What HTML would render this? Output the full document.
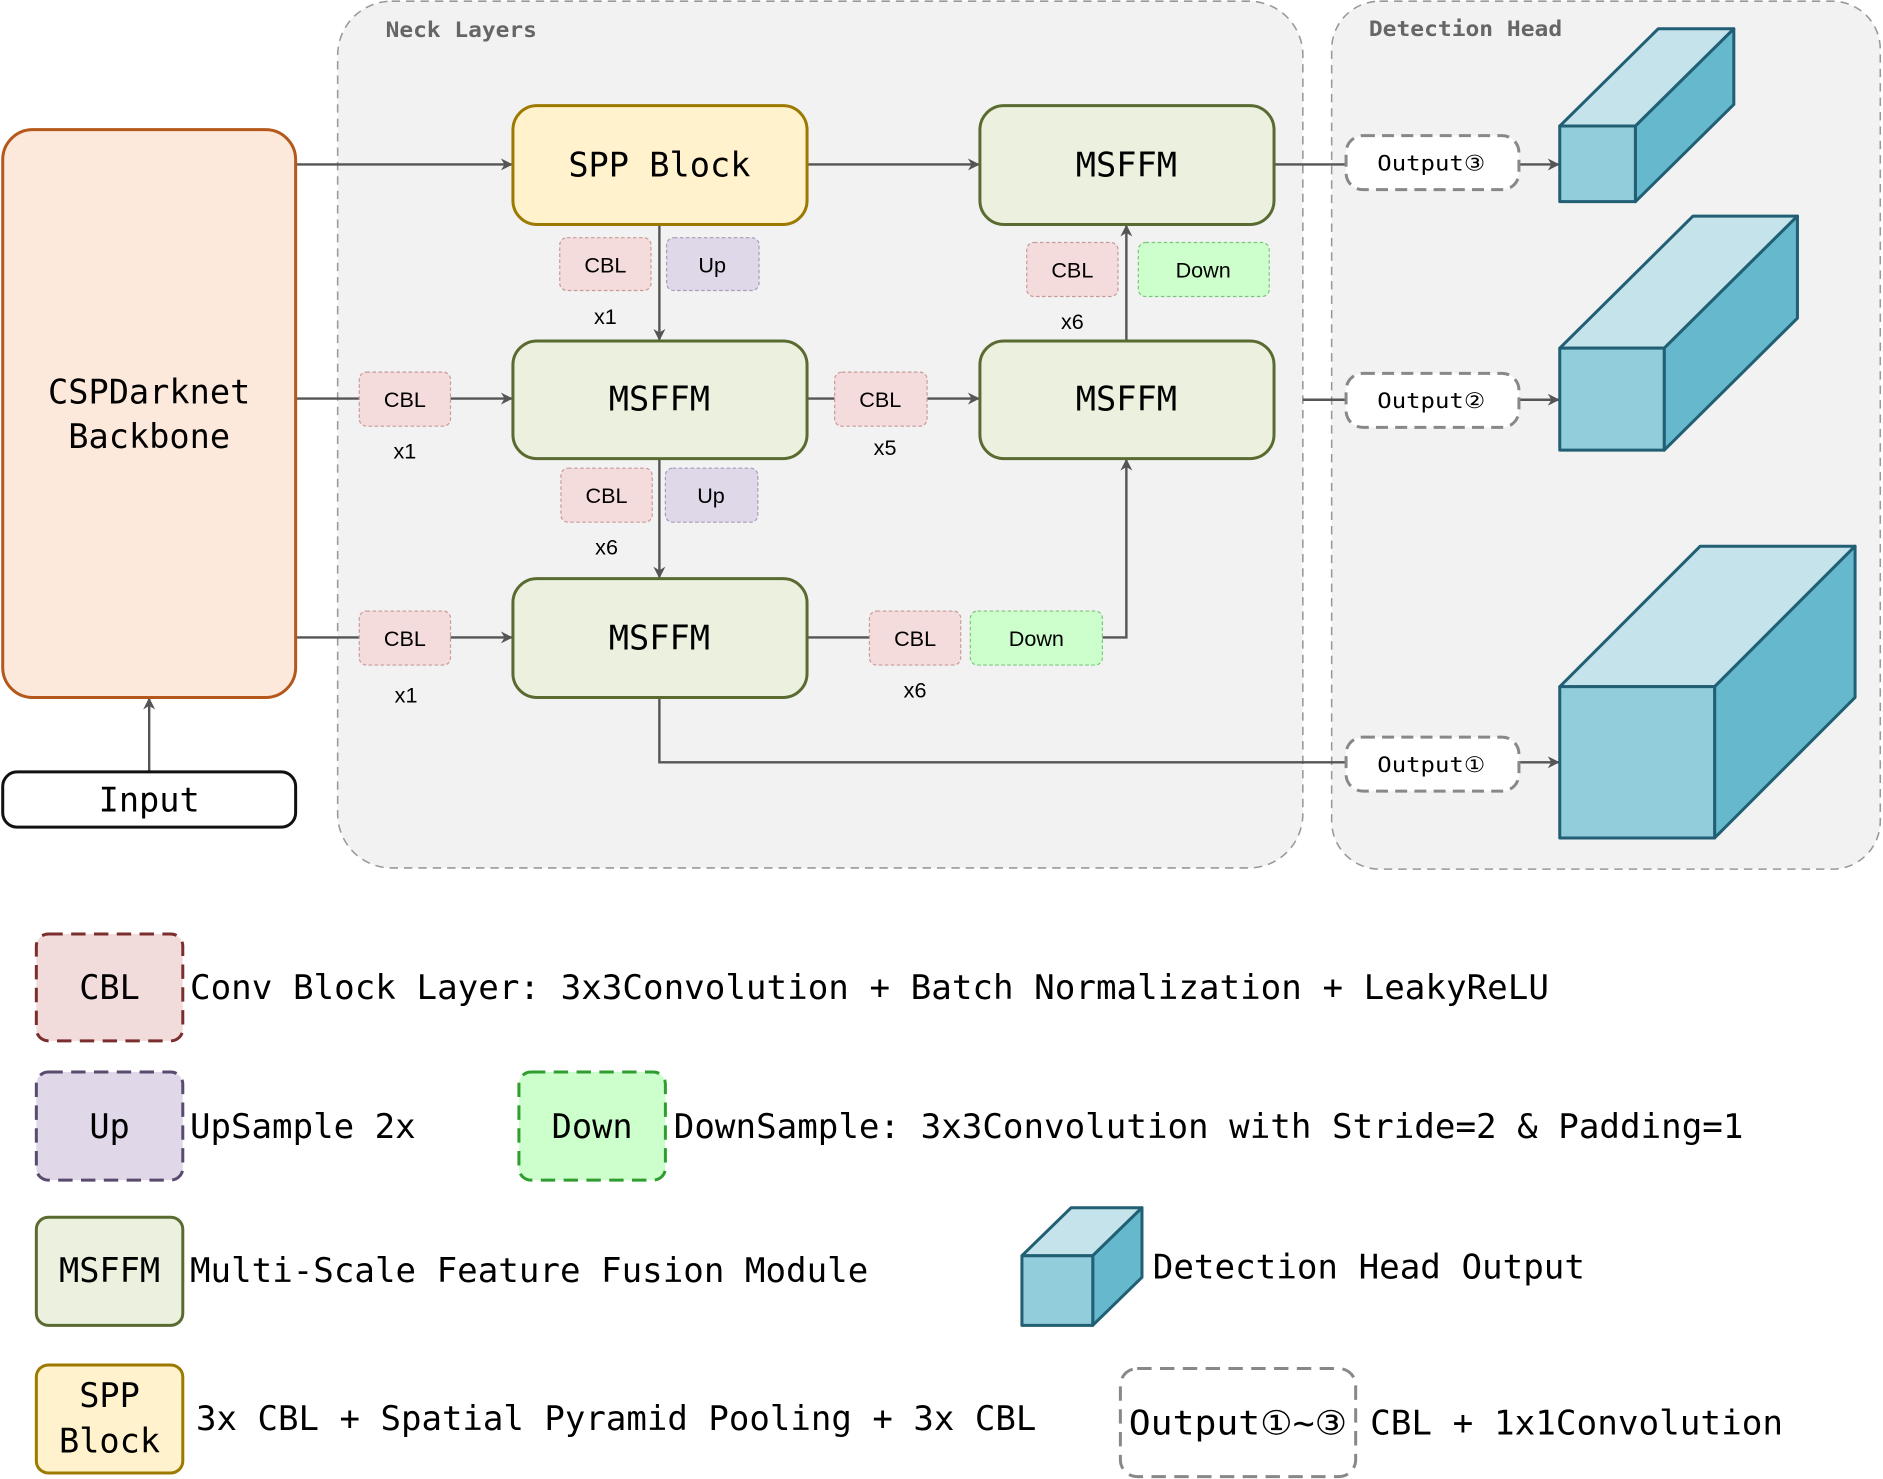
<!DOCTYPE html>
<html><head><meta charset="utf-8"><style>
html,body{margin:0;padding:0;background:#fff;}
svg{display:block}
.m{font-family:"DejaVu Sans Mono","Liberation Mono",monospace;}
.s{font-family:"Liberation Sans","DejaVu Sans",sans-serif;}
</style></head><body>
<svg width="1883" height="1479" viewBox="0 0 1568 1232" xmlns="http://www.w3.org/2000/svg">
<defs>
<marker id="a" markerWidth="10" markerHeight="10" refX="9" refY="5" orient="auto" markerUnits="userSpaceOnUse"><path d="M0,0 L10,5 L0,10 L3,5 Z" fill="#555"/></marker>
</defs>
<rect x="281" y="1" width="804" height="722" rx="45" fill="#f2f2f2" stroke="#999" stroke-width="1.3" stroke-dasharray="7,5"/>
<rect x="1109" y="1" width="457" height="723" rx="40" fill="#f2f2f2" stroke="#999" stroke-width="1.3" stroke-dasharray="7,5"/>
<text x="321" y="31" class="m" font-size="18" font-weight="600" fill="#666" textLength="126" lengthAdjust="spacingAndGlyphs">Neck Layers</text>
<text x="1140" y="30" class="m" font-size="18" font-weight="600" fill="#666" textLength="161" lengthAdjust="spacingAndGlyphs">Detection Head</text>

<g stroke="#555" stroke-width="2" fill="none">
<line x1="246" y1="137" x2="426" y2="137" marker-end="url(#a)"/>
<line x1="672" y1="137" x2="815" y2="137" marker-end="url(#a)"/>
<line x1="246" y1="332" x2="299" y2="332"/>
<line x1="375" y1="332" x2="426" y2="332" marker-end="url(#a)"/>
<line x1="246" y1="531" x2="299" y2="531"/>
<line x1="375" y1="531" x2="426" y2="531" marker-end="url(#a)"/>
<line x1="549" y1="187" x2="549" y2="283" marker-end="url(#a)"/>
<line x1="549" y1="382" x2="549" y2="481" marker-end="url(#a)"/>
<line x1="938" y1="284" x2="938" y2="188" marker-end="url(#a)"/>
<line x1="672" y1="332" x2="695" y2="332"/>
<line x1="772" y1="332" x2="815" y2="332" marker-end="url(#a)"/>
<line x1="672" y1="531" x2="724" y2="531"/>
<polyline points="918,531 938,531 938,383" marker-end="url(#a)"/>
<polyline points="549,581 549,635 1121,635"/>
<line x1="1061" y1="137" x2="1121" y2="137"/>
<line x1="1085" y1="333" x2="1121" y2="333"/>
<line x1="1265" y1="137" x2="1298" y2="137" marker-end="url(#a)"/>
<line x1="1265" y1="333" x2="1298" y2="333" marker-end="url(#a)"/>
<line x1="1265" y1="635" x2="1298" y2="635" marker-end="url(#a)"/>
<line x1="124" y1="643" x2="124" y2="582" marker-end="url(#a)"/>
</g>

<rect x="2" y="108" width="244" height="473" rx="25" fill="#fde9dc" stroke="#b4581b" stroke-width="2.5"/>
<text x="124" y="336" class="m" font-size="28" text-anchor="middle">CSPDarknet</text>
<text x="124" y="373" class="m" font-size="28" text-anchor="middle">Backbone</text>
<rect x="2" y="643" width="244" height="46" rx="12" fill="#fff" stroke="#111" stroke-width="2.5"/>
<text x="124" y="676" class="m" font-size="28" text-anchor="middle">Input</text>

<rect x="427" y="88" width="245" height="99" rx="20" fill="#fff2cc" stroke="#9c7a00" stroke-width="2.5"/>
<text x="549" y="147" class="m" font-size="28" text-anchor="middle">SPP Block</text>
<g fill="#ebf1de" stroke="#5a6b32" stroke-width="2.5">
<rect x="816" y="88" width="245" height="99" rx="20"/>
<rect x="427" y="284" width="245" height="98" rx="20"/>
<rect x="816" y="284" width="245" height="98" rx="20"/>
<rect x="427" y="482" width="245" height="99" rx="20"/>
</g>
<g class="m" font-size="28" text-anchor="middle">
<text x="938" y="147">MSFFM</text>
<text x="549" y="342">MSFFM</text>
<text x="938" y="342">MSFFM</text>
<text x="549" y="541">MSFFM</text>
</g>

<g stroke-width="1" stroke-dasharray="3,2">
<rect x="466" y="198" width="76" height="44" rx="6" fill="#f5dcdc" stroke="#c89a9a"/>
<rect x="555" y="198" width="77" height="44" rx="6" fill="#dfd8e8" stroke="#a99ab8"/>
<rect x="855" y="202" width="76" height="45" rx="6" fill="#f5dcdc" stroke="#c89a9a"/>
<rect x="948" y="202" width="109" height="45" rx="6" fill="#ccffcc" stroke="#7ac77a"/>
<rect x="299" y="310" width="76" height="45" rx="6" fill="#f5dcdc" stroke="#c89a9a"/>
<rect x="695" y="310" width="77" height="45" rx="6" fill="#f5dcdc" stroke="#c89a9a"/>
<rect x="467" y="390" width="76" height="45" rx="6" fill="#f5dcdc" stroke="#c89a9a"/>
<rect x="554" y="390" width="77" height="45" rx="6" fill="#dfd8e8" stroke="#a99ab8"/>
<rect x="299" y="509" width="76" height="45" rx="6" fill="#f5dcdc" stroke="#c89a9a"/>
<rect x="724" y="509" width="76" height="45" rx="6" fill="#f5dcdc" stroke="#c89a9a"/>
<rect x="808" y="509" width="110" height="45" rx="6" fill="#ccffcc" stroke="#7ac77a"/>
</g>
<g class="s" font-size="18" text-anchor="middle">
<text x="504" y="227">CBL</text><text x="593" y="227">Up</text><text x="504" y="270">x1</text>
<text x="893" y="231">CBL</text><text x="1002" y="231">Down</text><text x="893" y="274">x6</text>
<text x="337" y="339">CBL</text><text x="337" y="382">x1</text>
<text x="733" y="339">CBL</text><text x="737" y="379">x5</text>
<text x="505" y="419">CBL</text><text x="592" y="419">Up</text><text x="505" y="462">x6</text>
<text x="337" y="538">CBL</text><text x="338" y="585">x1</text>
<text x="762" y="538">CBL</text><text x="863" y="538">Down</text><text x="762" y="581">x6</text>
</g>

<g fill="#fff" stroke="#888" stroke-width="2.5" stroke-dasharray="10,6">
<rect x="1121" y="113" width="144" height="45" rx="14"/>
<rect x="1121" y="311" width="144" height="45" rx="14"/>
<rect x="1121" y="614" width="144" height="45" rx="14"/>
</g>
<g class="m" font-size="18">
<text x="1147" y="142" textLength="90" lengthAdjust="spacingAndGlyphs">Output③</text>
<text x="1147" y="340" textLength="90" lengthAdjust="spacingAndGlyphs">Output②</text>
<text x="1147" y="643" textLength="90" lengthAdjust="spacingAndGlyphs">Output①</text>
</g>

<g stroke="#215f74" stroke-width="2.5" stroke-linejoin="round">
<polygon points="1299,105 1381,24 1444,24 1362,105" fill="#c5e3ea"/>
<polygon points="1362,105 1444,24 1444,87 1362,168" fill="#66b8cc"/>
<rect x="1299" y="105" width="63" height="63" fill="#92cddc"/>
<polygon points="1299,290 1410,180 1497,180 1386,290" fill="#c5e3ea"/>
<polygon points="1386,290 1497,180 1497,265 1386,375" fill="#66b8cc"/>
<rect x="1299" y="290" width="87" height="85" fill="#92cddc"/>
<polygon points="1299,572 1416,455 1545,455 1428,572" fill="#c5e3ea"/>
<polygon points="1428,572 1545,455 1545,581 1428,698" fill="#66b8cc"/>
<rect x="1299" y="572" width="129" height="126" fill="#92cddc"/>
<polygon points="851,1046 892,1006 951,1006 910,1046" fill="#c5e3ea"/>
<polygon points="910,1046 951,1006 951,1064 910,1104" fill="#66b8cc"/>
<rect x="851" y="1046" width="59" height="58" fill="#92cddc"/>
</g>

<g stroke-width="2.5">
<rect x="30" y="778" width="122" height="89" rx="10" fill="#f2dcdb" stroke="#7b2e2e" stroke-dasharray="12,7"/>
<rect x="30" y="893" width="122" height="90" rx="10" fill="#e0d8e8" stroke="#5a4a6e" stroke-dasharray="12,7"/>
<rect x="432" y="893" width="122" height="90" rx="10" fill="#ccffcc" stroke="#2f9e2f" stroke-dasharray="12,7"/>
<rect x="30" y="1014" width="122" height="90" rx="10" fill="#ebf1de" stroke="#5a6b32"/>
<rect x="30" y="1137" width="122" height="90" rx="10" fill="#fff2cc" stroke="#9c7a00"/>
<rect x="933" y="1140" width="196" height="90" rx="14" fill="#fff" stroke="#888" stroke-dasharray="12,7"/>
</g>
<g class="m" font-size="28">
<text x="91" y="832" text-anchor="middle">CBL</text>
<text x="158" y="832" textLength="1132" lengthAdjust="spacingAndGlyphs">Conv Block Layer: 3x3Convolution + Batch Normalization + LeakyReLU</text>
<text x="91" y="948" text-anchor="middle">Up</text>
<text x="158" y="948" textLength="188" lengthAdjust="spacingAndGlyphs">UpSample 2x</text>
<text x="493" y="948" text-anchor="middle">Down</text>
<text x="561" y="948" textLength="891" lengthAdjust="spacingAndGlyphs">DownSample: 3x3Convolution with Stride=2 &amp; Padding=1</text>
<text x="91" y="1068" text-anchor="middle">MSFFM</text>
<text x="158" y="1068" textLength="565" lengthAdjust="spacingAndGlyphs">Multi-Scale Feature Fusion Module</text>
<text x="960" y="1065" textLength="360" lengthAdjust="spacingAndGlyphs">Detection Head Output</text>
<text x="91" y="1172" text-anchor="middle">SPP</text>
<text x="91" y="1210" text-anchor="middle">Block</text>
<text x="163" y="1191" textLength="700" lengthAdjust="spacingAndGlyphs">3x CBL + Spatial Pyramid Pooling + 3x CBL</text>
<text x="940" y="1195" textLength="182" lengthAdjust="spacingAndGlyphs">Output①~③</text>
<text x="1141" y="1195" textLength="344" lengthAdjust="spacingAndGlyphs">CBL + 1x1Convolution</text>
</g>
</svg>
</body></html>
